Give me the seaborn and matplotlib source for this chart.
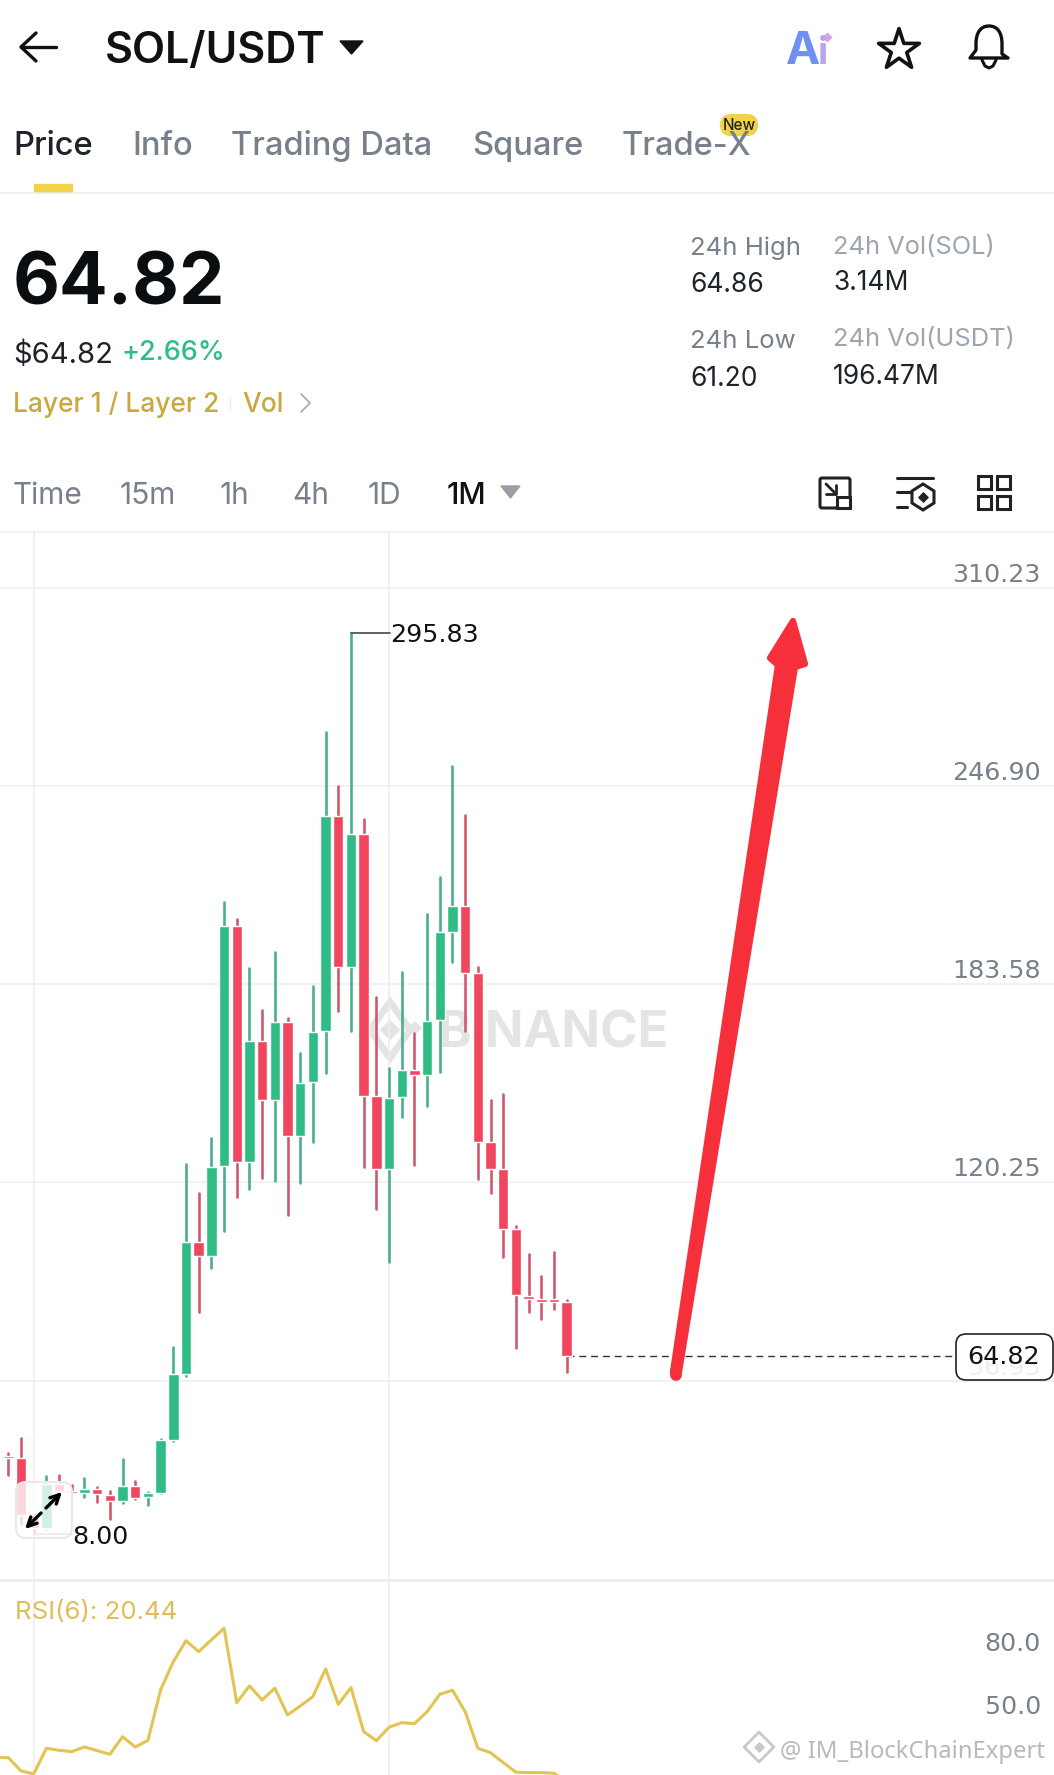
import numpy as np
import pandas as pd
import matplotlib.pyplot as plt
import seaborn as sns
from matplotlib.patches import FancyBboxPatch, Polygon, PathPatch, Rectangle
from matplotlib.path import Path

# monthly candles
opens = [32.4, 32.8, 32.1, 14.0, 9.98, 23.9, 21.8, 20.9, 22.2, 20.4, 18.6, 23.3, 19.7, 21.2, 38.0, 59.0,
         101.3, 96.9, 125.6, 202.3, 126.7, 165.4, 146.6, 171.4, 135.2, 152.4, 168.6, 237.4, 189.2, 231.5, 147.9,
         124.4, 147.4, 156.2, 154.7, 172.1, 200.3, 208.5, 187.0, 133.3, 124.4, 105.5, 84.0, 83.0, 83.0, 82.2]
highs = [33.5, 33.9, 38.5, 14.5, 26.5, 26.8, 23.6, 25.7, 22.9, 21.8, 31.8, 25.0, 21.3, 38.2, 67.6, 126.0,
         116.8, 134.3, 209.9, 204.3, 188.6, 175.3, 193.7, 172.7, 161.5, 183.1, 264.2, 246.9, 295.83, 236.2, 179.6,
         156.7, 187.4, 168.1, 206.0, 217.7, 253.4, 237.5, 188.9, 146.6, 148.5, 106.3, 97.4, 90.4, 98.1, 82.7]
lows = [31.8, 26.7, 11.0, 8.0, 9.5, 19.8, 20.9, 19.7, 18.3, 12.6, 17.8, 19.0, 17.1, 20.9, 37.7, 58.5,
        78.9, 92.8, 104.8, 115.7, 118.3, 121.8, 120.8, 109.8, 120.0, 133.1, 155.1, 175.1, 168.7, 125.3, 111.9,
        94.9, 141.3, 125.8, 144.8, 155.6, 190.8, 168.7, 121.5, 116.8, 96.3, 67.3, 78.8, 76.5, 79.8, 59.7]
closes = [32.9, 32.3, 14.0, 9.9, 23.9, 21.8, 21.0, 22.2, 20.7, 18.6, 23.3, 19.5, 21.0, 38.0, 59.1, 101.3,
          96.9, 125.3, 202.3, 126.7, 165.4, 146.6, 171.4, 135.2, 152.1, 168.3, 237.4, 189.2, 231.5, 147.9, 124.4,
          147.3, 156.2, 154.6, 171.9, 200.3, 208.5, 187.0, 133.3, 124.5, 105.5, 84.2, 83.1, 82.2, 82.2, 64.82]
rsi = [32.0, 31.9, 25.6, 24.2, 36.4, 35.4, 34.8, 37.0, 35.3, 33.5, 41.9, 37.0, 40.2, 64.2, 77.6, 87.6,
       82.4, 88.0, 93.5, 58.1, 66.1, 59.4, 65.0, 52.3, 56.5, 61.0, 74.2, 57.3, 65.3, 44.3, 40.0,
       46.4, 48.6, 48.1, 53.8, 62.1, 64.0, 53.8, 36.4, 34.3, 29.6, 25.0, 24.8, 24.8, 24.5, 20.44]
price_ticks = [310.23, 246.90, 183.58, 120.25, 56.93]
rsi_ticks = [80.0, 50.0]
tabs = ['Price', 'Info', 'Trading Data', 'Square', 'Trade-X']
intervals = ['Time', '15m', '1h', '4h', '1D', '1M']
last_price = 64.82
high_i, low_i = 28, 3

GREEN, RED = '#2FBD85', '#F0475F'
WICK_G, WICK_R = '#4BAF8B', '#CF5A6E'
GOLD = '#C9A93F'
DARK, GREY, LIGHT = '#1E2329', '#78808C', '#9EA5AF'

sns.set_theme(style='white')
plt.rcParams['font.family'] = ['Inter', 'DejaVu Sans']

W, H = 1054, 1775
fig = plt.figure(figsize=(W / 100, H / 100), dpi=100)


def panel(top, bottom):
    return fig.add_axes([0, 1 - bottom / H, 1, (bottom - top) / H])


def px_to_i(px):
    return 15 + (px - 186) / 12.69


def px_to_price(px):
    return 310.23 - (px - 587.6) / 3.131


ax = panel(532, 1580)
ax_rsi = panel(1580, H)
ui = fig.add_axes([0, 0, 1, 1], zorder=5)
ui.set_xlim(0, W)
ui.set_ylim(H, 0)
ui.axis('off')
ui.patch.set_alpha(0)

df = pd.DataFrame({'i': range(len(opens)), 'open': opens, 'high': highs, 'low': lows, 'close': closes})
df['up'] = df.close >= df.open
df['bottom'] = df[['open', 'close']].min(axis=1)
df['body'] = (df.close - df.open).abs()
wicks = df.melt(id_vars=['i', 'up'], value_vars=['low', 'high'], value_name='price')

for a in (ax, ax_rsi):
    a.patch.set_alpha(0)
    a.set_xlim(px_to_i(0), px_to_i(W))
    a.set_axisbelow(True)

sns.lineplot(data=wicks[wicks.up], x='i', y='price', units='i', estimator=None, color=WICK_G,
             linewidth=1.9, ax=ax, zorder=2)
sns.lineplot(data=wicks[~wicks.up], x='i', y='price', units='i', estimator=None, color=WICK_R,
             linewidth=1.9, ax=ax, zorder=2)
for up, col in ((True, GREEN), (False, RED)):
    sub = df[df.up == up]
    sns.barplot(data=sub, x='i', y='body', bottom=sub['bottom'].values, native_scale=True, color=col,
                saturation=1, width=0.82, errorbar=None, ax=ax, zorder=3)

ax.set_xlim(px_to_i(0), px_to_i(W))
ax.set_ylim(px_to_price(1580), px_to_price(532))
ax.set_yticks(price_ticks)
ax.set_xticks([3, 31])
ax.grid(True, color='#EEEEEE', linewidth=1.1)
ax.tick_params(left=False, bottom=False, labelleft=False, labelbottom=False)
ax.set_xlabel('')
ax.set_ylabel('')
for t in price_ticks:
    ax.annotate(f'{t:.2f}', xy=(1, t), xycoords=ax.get_yaxis_transform(), xytext=(-13, 13),
                textcoords='offset pixels', ha='right', va='center', fontsize=18.3, color=GREY,
                family='DejaVu Sans', zorder=1)

# high / low / last price markers
ax.plot([high_i, px_to_i(390)], [highs[high_i]] * 2, color='#555555', lw=1.3, zorder=2)
ax.annotate(f'{highs[high_i]:.2f}', xy=(px_to_i(390), highs[high_i]), xytext=(0, -2.5), textcoords='offset pixels',
            fontsize=18.3, color='#111111', va='center', family='DejaVu Sans')
ax.plot([low_i, px_to_i(71)], [lows[low_i]] * 2, color='#999999', lw=1.1, zorder=2)
ax.annotate(f'{lows[low_i]:.2f}', xy=(px_to_i(72), lows[low_i]), xytext=(0, -3.5), textcoords='offset pixels',
            fontsize=18.3, color='#111111', va='center', family='DejaVu Sans')
ax.plot([len(opens) - 1, px_to_i(956)], [last_price] * 2, color='#333333', lw=1, dashes=(5, 3.5), zorder=2)

# RSI panel
sns.lineplot(x=np.arange(len(rsi)), y=rsi, color='#E3C452', linewidth=2.2, ax=ax_rsi)
ax_rsi.set_xlim(px_to_i(0), px_to_i(W))
ax_rsi.set_ylim(23.67, 116.5)
ax_rsi.set_yticks([])
ax_rsi.set_xticks([3, 31])
ax_rsi.grid(True, axis='x', color='#EEEEEE', linewidth=1.1)
ax_rsi.tick_params(left=False, bottom=False, labelbottom=False)
for t in rsi_ticks:
    ax_rsi.annotate(f'{t:.1f}', xy=(1, t), xycoords=ax_rsi.get_yaxis_transform(), xytext=(-13, 13),
                    textcoords='offset pixels', ha='right', va='center', fontsize=18.3, color=GREY,
                    family='DejaVu Sans')
for a in (ax, ax_rsi):
    sns.despine(ax=a, left=True, bottom=True)


def label(x, y, s, size, color, weight='normal', **kw):
    ui.text(x, y + 2.5, s, fontsize=size, color=color, fontweight=weight, va='center', **kw)


# header
ui.plot([21, 56], [47, 47], color='#111111', lw=2.4)
ui.plot([36, 21, 36], [33, 47, 61], color='#111111', lw=2.4)
label(105, 49, 'SOL/USDT', 31, '#111111', 'semibold')
ui.add_patch(Polygon([(340, 41), (363, 41), (351.5, 54)], color='#111111'))
label(786, 49, 'A', 33, '#6F90F2', 'bold')
label(818, 52, 'i', 27, '#B9A5E8', 'bold')
ui.scatter([827], [37], marker='D', s=18, color='#D8A6DC')
ui.scatter([899], [50], marker='*', s=950, facecolor='none', edgecolor='#111111', linewidth=2.6)
bell = Path([(970, 58), (976, 50), (976, 44), (976, 32), (981, 26), (989, 26), (997, 26), (1002, 32), (1002, 44),
             (1002, 50), (1002, 54), (1008, 58), (970, 58)],
            [Path.MOVETO, Path.LINETO, Path.LINETO, Path.CURVE4, Path.CURVE4, Path.CURVE4, Path.CURVE4, Path.CURVE4,
             Path.CURVE4, Path.LINETO, Path.LINETO, Path.LINETO, Path.CLOSEPOLY])
ui.add_patch(PathPatch(bell, facecolor='none', edgecolor='#111111', lw=2.4, joinstyle='round'))
ui.plot([982, 985, 989, 993, 996], [60, 66, 68, 66, 60], color='#111111', lw=2.2)

# tabs
for name, x in zip(tabs, [13, 132, 231, 472, 622]):
    label(x, 144, name, 23.5, DARK if name == 'Price' else GREY, 'medium')
ui.add_patch(FancyBboxPatch((722, 116), 34, 18, boxstyle='round,pad=0,rounding_size=9', mutation_aspect=1,
                            facecolor='#F2D24B', edgecolor='#F2D24B', lw=3))
label(739, 122.5, 'New', 11, '#222222', 'medium', ha='center')
ui.add_patch(Rectangle((34, 184), 38, 7.5, color='#F2D24B'))
ui.plot([0, W], [192.5, 192.5], color='#EEEEEE', lw=1.1)

# price summary
label(13, 283, '64.82', 52, '#0B0E11', 'bold')
label(13, 353, '$64.82', 21, DARK)
label(121, 351, '+2.66%', 19.5, GREEN, 'medium')
label(13, 402, 'Layer 1 / Layer 2', 19, GOLD, 'medium')
ui.plot([230, 230], [397, 409], color='#EEEEEE', lw=1)
label(242, 402, 'Vol', 19, GOLD, 'medium')
ui.plot([301, 310, 301], [394, 403, 412], color='#A9AEB5', lw=1.3)
label(690, 246, '24h High', 18.5, GREY)
label(690, 283, '64.86', 19, DARK)
label(690, 339, '24h Low', 18.5, GREY)
label(690, 376, '61.20', 19, DARK)
label(833, 245, '24h Vol(SOL)', 18.3, LIGHT)
label(833, 281, '3.14M', 19, DARK)
label(833, 337, '24h Vol(USDT)', 18.3, LIGHT)
label(833, 374, '196.47M', 19, DARK)

# interval bar
for name, x in zip(intervals, [13, 120, 220, 292, 368, 447]):
    label(x, 493, name, 21.5, '#111111' if name == '1M' else GREY, 'medium' if name == '1M' else 'normal')
ui.add_patch(Polygon([(501, 486), (520, 486), (510.5, 498)], color='#9A9FA6'))
ui.add_patch(FancyBboxPatch((820, 478), 30, 30, boxstyle='round,pad=0,rounding_size=2', facecolor='none',
                            edgecolor='#222222', lw=2.2))
ui.add_patch(Rectangle((837, 497), 13, 11, facecolor='white', edgecolor='#222222', lw=2.2))
ui.plot([826, 836], [484, 494], color='#222222', lw=2)
ui.plot([826, 836, 836], [494, 494, 485], color='#222222', lw=2)
ui.plot([897, 933], [478, 478], color='#222222', lw=2.2)
ui.plot([897, 910], [492, 492], color='#222222', lw=2.2)
ui.plot([897, 907], [507, 507], color='#222222', lw=2.2)
ui.add_patch(Polygon([(923, 484), (934, 491), (934, 503), (923, 510), (912, 503), (912, 491)], facecolor='white',
                     edgecolor='#222222', lw=2.2))
ui.scatter([923], [497], marker='D', s=22, color='#222222')
for sx in (978, 997):
    for sy in (476, 496):
        ui.add_patch(Rectangle((sx, sy), 13, 13, facecolor='none', edgecolor='#222222', lw=2.2))
ui.plot([0, W], [532, 532], color='#EEEEEE', lw=1.1)
ui.plot([0, W], [1580, 1580], color='#EEEEEE', lw=2)

# watermark, under the candles
ax.text(438, 1034, 'BINANCE', fontsize=36.5, fontweight='bold', color='#E4E4E4', va='center',
        transform=ui.transData, zorder=0.5)
ax.add_patch(Polygon([(390, 1002), (410, 1030), (390, 1058), (370, 1030)], facecolor='none', edgecolor='#E4E4E4',
                     lw=5, transform=ui.transData, zorder=0.5))
ax.scatter([390, 368, 415], [1030, 1030, 1028], marker='D', s=[90, 40, 40], color='#E4E4E4',
           transform=ui.transData, zorder=0.5)

# expand button over the old candles
ui.add_patch(FancyBboxPatch((16, 1482), 56, 56, boxstyle='round,pad=0,rounding_size=10', facecolor=(1, 1, 1, 0.78),
                            edgecolor='#E9E9E9', lw=1.5))
ui.annotate('', xy=(62, 1492), xytext=(46, 1508),
            arrowprops=dict(arrowstyle='->', color='black', lw=2.4, mutation_scale=16, shrinkA=0, shrinkB=0))
ui.annotate('', xy=(25, 1529), xytext=(41, 1513),
            arrowprops=dict(arrowstyle='->', color='black', lw=2.4, mutation_scale=16, shrinkA=0, shrinkB=0))

# last price tag
ui.add_patch(FancyBboxPatch((956, 1334), 97, 46, boxstyle='round,pad=0,rounding_size=10',
                            facecolor=(1, 1, 1, 0.88), edgecolor='#222222', lw=1.2))
label(1004, 1355, f'{last_price:.2f}', 18.3, '#111111', ha='center', family='DejaVu Sans')

# hand drawn arrow
ui.add_patch(Polygon([(793, 621), (805, 664), (795, 667), (679, 1372), (673, 1372), (778, 665), (770, 658)],
                     facecolor='#F6303A', edgecolor='#F6303A', lw=4.5, joinstyle='round'))
ui.plot([675.5, 675.5], [1371, 1375], color='#F6303A', lw=8.5, solid_capstyle='round')

label(15, 1610, 'RSI(6): 20.44', 18.6, '#DFBE58')
label(780, 1749, '@ IM_BlockChainExpert', 17.2, '#B9B9B9', family='Noto Sans')
ui.scatter([759], [1747], marker='D', s=230, facecolor='none', edgecolor='#C9C9C9', linewidth=2)
ui.scatter([759], [1747], marker='D', s=22, color='#C9C9C9')

fig.savefig('out.png', dpi=100)
